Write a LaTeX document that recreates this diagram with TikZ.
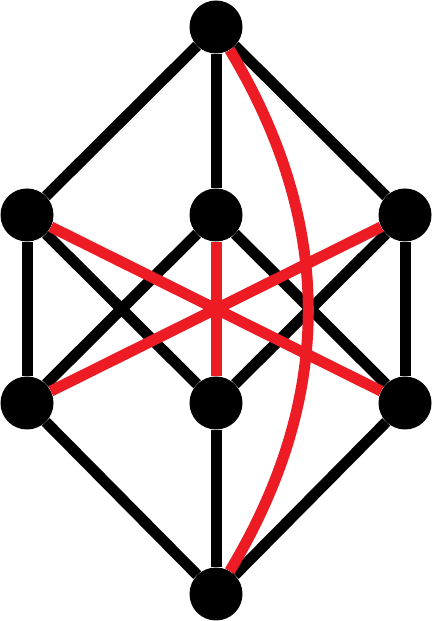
\documentclass[tikz,border=0pt]{standalone}
\usepackage{tikz}
\usetikzlibrary{positioning}
\definecolor{graphred}{RGB}{237,28,36}

\begin{document}
\begin{tikzpicture}[
        x=1pt,
        y=1pt,
        every node/.style={circle, fill=black, inner sep=0pt, minimum size=53pt},
        plain/.style={line width=11pt, black},
        extra/.style={line width=11pt, graphred}
    ]
    \useasboundingbox (0,0) rectangle (432,621);

    \node (t) at (216,594) {};
    \node (a1) at (27,406) {};
    \node (a2) at (216,406) {};
    \node (a3) at (405,406) {};
    \node (b1) at (27,218) {};
    \node (b2) at (216,218) {};
    \node (b3) at (405,218) {};
    \node (u) at (216,27) {};

    \draw[plain] (t) -- (a1);
    \draw[plain] (t) -- (a2);
    \draw[plain] (t) -- (a3);
    \draw[plain] (a1) -- (b1);
    \draw[plain] (a3) -- (b3);
    \draw[plain] (a1) -- (b2);
    \draw[plain] (a3) -- (b2);
    \draw[plain] (a2) -- (b1);
    \draw[plain] (a2) -- (b3);
    \draw[plain] (b1) -- (u);
    \draw[plain] (b2) -- (u);
    \draw[plain] (b3) -- (u);

    \draw[extra] (a1) -- (b3);
    \draw[extra] (a3) -- (b1);
    \draw[extra] (a2) -- (b2);
    \draw[extra] (t) to[bend left=31] (u);
\end{tikzpicture}
\end{document}
